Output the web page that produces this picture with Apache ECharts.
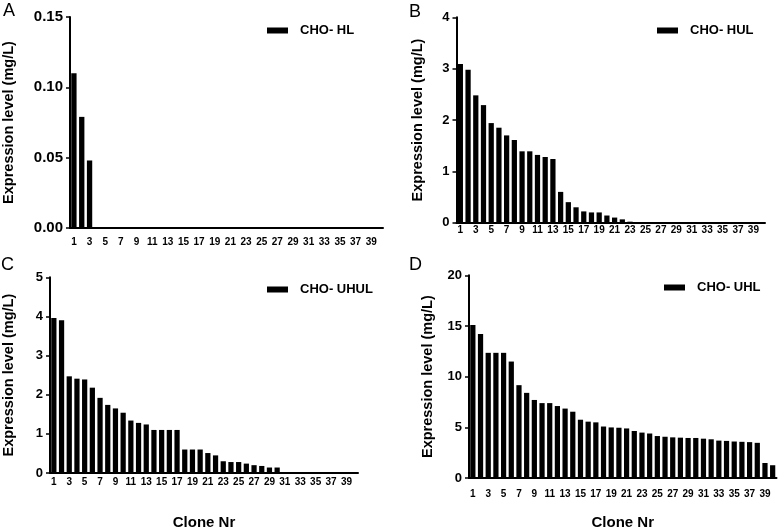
<!DOCTYPE html>
<html>
<head>
<meta charset="utf-8">
<script src="https://cdn.jsdelivr.net/npm/echarts@6/dist/echarts.min.js"></script>
<style>
  html, body { margin: 0; padding: 0; background: #fff; }
  #main { width: 778px; height: 531px; }
</style>
</head>
<body>
<div id="main"></div>
<script>
"use strict";

// clone numbers on the x axes
var clones = ["1","2","3","4","5","6","7","8","9","10","11","12","13","14","15","16","17","18","19","20",
              "21","22","23","24","25","26","27","28","29","30","31","32","33","34","35","36","37","38","39","40"];

// expression level (mg/L) per clone
var choHL = [0.110, 0.079, 0.048, 0, 0, 0, 0, 0, 0, 0,
             0, 0, 0, 0, 0, 0, 0, 0, 0, 0,
             0, 0, 0, 0, 0, 0, 0, 0, 0, 0,
             0, 0, 0, 0, 0, 0, 0, 0, 0, 0];
var choHUL = [3.09, 2.98, 2.48, 2.29, 1.94, 1.85, 1.70, 1.61, 1.39, 1.39,
              1.32, 1.28, 1.24, 0.60, 0.40, 0.30, 0.22, 0.20, 0.20, 0.14,
              0.10, 0.065, 0.02, 0, 0, 0, 0, 0, 0, 0,
              0, 0, 0, 0, 0, 0, 0, 0, 0, 0];
var choUHUL = [3.96, 3.90, 2.47, 2.41, 2.39, 2.18, 1.92, 1.74, 1.65, 1.54,
               1.34, 1.28, 1.24, 1.10, 1.10, 1.10, 1.10, 0.60, 0.60, 0.60,
               0.51, 0.45, 0.30, 0.28, 0.28, 0.24, 0.20, 0.18, 0.14, 0.14,
               0, 0, 0, 0, 0, 0, 0, 0, 0, 0];
var choUHL = [15.09, 14.21, 12.35, 12.35, 12.35, 11.49, 9.16, 8.40, 7.70, 7.39,
              7.39, 7.10, 6.85, 6.54, 5.75, 5.56, 5.49, 5.08, 4.99, 4.96,
              4.89, 4.64, 4.48, 4.39, 4.14, 4.07, 4.01, 3.98, 3.95, 3.95,
              3.88, 3.82, 3.69, 3.66, 3.60, 3.57, 3.54, 3.47, 1.48, 1.26];

// y axis scales per panel: [max, interval, decimals]
var yScaleA = [0.15, 0.05, 2];
var yScaleB = [4, 1, 0];
var yScaleC = [5, 1, 0];
var yScaleD = [20, 5, 0];

var panelLetters = ["A", "B", "C", "D"];
var seriesNames = ["CHO- HL", "CHO- HUL", "CHO- UHUL", "CHO- UHL"];
var yTitle = "Expression level (mg/L)";
var xTitle = "Clone Nr";

var FONT = "Arial, 'Liberation Sans', sans-serif";
var NARROW = "'Liberation Sans Narrow', 'Arial Narrow', Arial, sans-serif";

var grids = [
    {left: 70, top: 17, width: 313, height: 211},
    {left: 456.5, top: 17.3, width: 308.5, height: 205.4},
    {left: 49.3, top: 277.3, width: 308.7, height: 203.7},
    {left: 469, top: 275.3, width: 307.5, height: 210.7}
];
var xLabelMargin = [9, 3, 4, 11];
var yNameGap = [54, 31, 34, 34];
var yLabelSize = [15, 13, 13, 13];
var yScales = [yScaleA, yScaleB, yScaleC, yScaleD];
var values = [choHL, choHUL, choUHUL, choUHL];
var legendPos = [[267, 24], [657, 24], [267, 283], [664, 281]];
var letterPos = [[3, 2], [409, 3], [1, 256], [409, 256]];

function xAxisFor(i) {
    var ax = {
        type: "category", gridIndex: i, data: clones,
        axisLine: {lineStyle: {color: "#000", width: 2}},
        axisTick: {alignWithLabel: true, interval: 1, length: 4, lineStyle: {color: "#000", width: 1.5}},
        axisLabel: {interval: 1, margin: xLabelMargin[i], color: "#000", fontSize: 10,
                    fontWeight: "bold", fontFamily: NARROW}
    };
    if (i >= 2) {
        ax.name = xTitle;
        ax.nameLocation = "middle";
        ax.nameGap = i === 2 ? 42 : 37;
        ax.nameTextStyle = {color: "#000", fontSize: 15, fontWeight: "bold", fontFamily: FONT};
    }
    return ax;
}

function yAxisFor(i) {
    var s = yScales[i];
    return {
        type: "value", gridIndex: i, min: 0, max: s[0], interval: s[1],
        splitLine: {show: false},
        axisLine: {show: true, lineStyle: {color: "#000", width: 2}},
        axisTick: {show: true, length: 4, lineStyle: {color: "#000", width: 1.5}},
        axisLabel: {margin: 7, color: "#000", fontSize: yLabelSize[i], fontWeight: "bold", fontFamily: FONT,
                    formatter: function (v) { return v.toFixed(s[2]); }},
        name: yTitle, nameLocation: "middle", nameGap: yNameGap[i],
        nameTextStyle: {color: "#000", fontSize: 14.5, fontWeight: "bold", fontFamily: FONT}
    };
}

var option = {
    animation: false,
    backgroundColor: "#fff",
    title: [], legend: [], grid: grids, xAxis: [], yAxis: [], series: []
};

for (var i = 0; i < 4; i++) {
    option.title.push({
        text: panelLetters[i], left: letterPos[i][0], top: letterPos[i][1], padding: 0,
        textStyle: {color: "#000", fontSize: 18, fontWeight: "normal", fontFamily: FONT}
    });
    option.legend.push({
        data: [seriesNames[i]], left: legendPos[i][0], top: legendPos[i][1], padding: 0,
        icon: "rect", itemWidth: 21, itemHeight: 6,
        textStyle: {color: "#000", fontSize: 13, fontWeight: "bold", fontFamily: FONT, padding: [0, 0, 0, 7]}
    });
    option.xAxis.push(xAxisFor(i));
    option.yAxis.push(yAxisFor(i));
    option.series.push({
        name: seriesNames[i], type: "bar", xAxisIndex: i, yAxisIndex: i,
        data: values[i], barWidth: "68%", itemStyle: {color: "#000"}
    });
}

var chart = echarts.init(document.getElementById("main"));
chart.setOption(option);
</script>
</body>
</html>
